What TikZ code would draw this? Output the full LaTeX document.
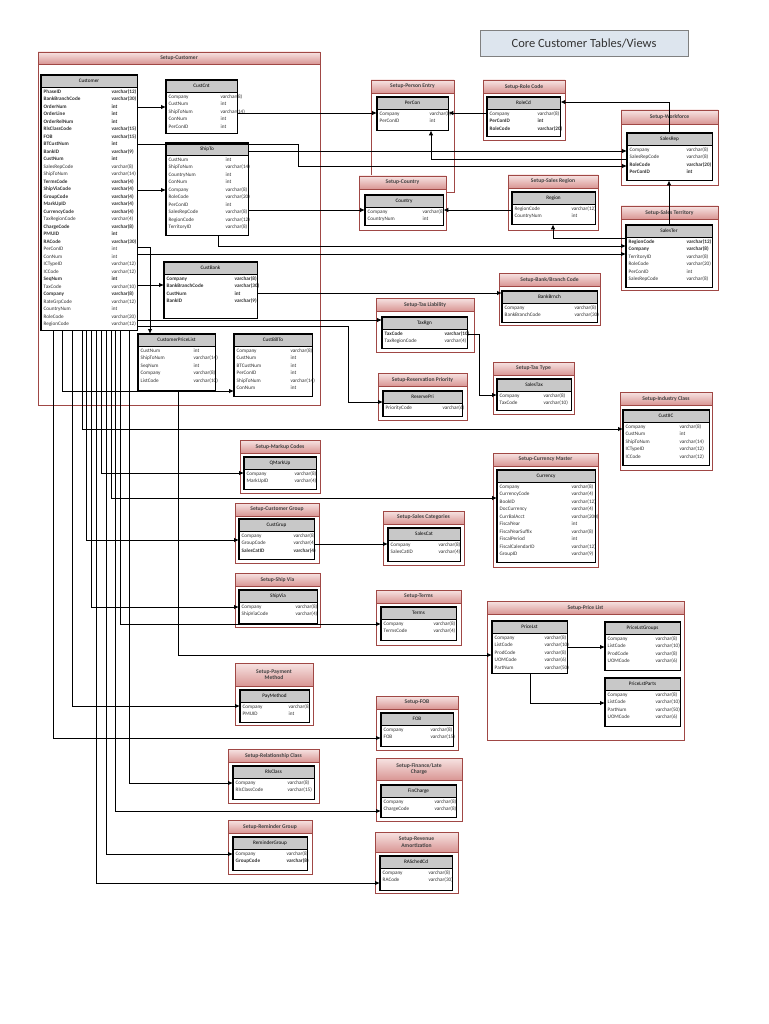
\documentclass[tikz,border=0pt]{standalone}
\usepackage{fontspec}
\setmainfont{Carlito}
\usetikzlibrary{arrows.meta}
\definecolor{grpTop}{HTML}{F7E4E3}
\definecolor{grpBot}{HTML}{D99694}
\definecolor{grpLine}{HTML}{A04845}
\definecolor{hdrgray}{HTML}{C8C8C8}
\definecolor{titlefill}{HTML}{DDE5EE}
\definecolor{rowtext}{HTML}{303030}
\newcommand\Bf[2]{\textbf{#1}&\textbf{#2}\\}
\newcommand\Rw[2]{#1&#2\\}
\newcommand\tbl[8]{%
 \node[minimum width={(#4-#2)*1pt}, minimum height={(#5-#3)*1pt}, inner sep=0pt, anchor=north west, fill=white] (#1) at (#2,#3) {};
 \draw[fill=hdrgray, line width=0.6pt] (#2,#3) rectangle (#4,#3+12);
 \node[font=\fontsize{5.2}{6}\selectfont, inner sep=0pt] (#1-t) at ({(#2+#4)/2},#3+6) {#6};
 \node[anchor=north west, inner sep=0pt, text=rowtext, font=\fontsize{5.2}{7.5}\selectfont] (#1-r) at (#2+2.5,#3+13) {\begin{tabular}{@{}p{#7pt}l@{}}#8\end{tabular}};
 \draw[line width=1.1pt] (#1.north west) rectangle (#1.south east);
}
\newcommand\grp[7]{%
 \fill[white] (#2,#3) rectangle (#4,#5);
 \shade[top color=grpTop, bottom color=grpBot] (#2,#3) rectangle (#4,#6);
 \draw[grpLine, line width=0.6pt] (#2,#3) rectangle (#4,#5);
 \draw[grpLine, line width=0.4pt] (#2,#6) -- (#4,#6);
 \node[font=\fontsize{5.6}{6.6}\selectfont\bfseries, text=black!75, align=center, inner sep=0pt] (#1) at ({(#2+#4)/2},{(#3+#6)/2}) {#7};
}
\begin{document}
\begin{tikzpicture}[x=1pt,y=-1pt, arr/.style={line width=0.9pt, -{Latex[length=5pt,width=4.5pt]}}, ln/.style={line width=0.9pt}]
\useasboundingbox (0,0) rectangle (768,1024);
\fill[white] (0,0) rectangle (768,1024);
% title
\node[draw=black!50, fill=titlefill, minimum width=208pt, minimum height=26pt, font=\fontsize{12.5}{14}\selectfont, text=black!80] (title) at (584,43) {Core Customer Tables/Views};
% groups
\grp{gCust}{38}{52}{320}{405}{64}{Setup-Customer}
\grp{gPer}{371}{80}{454}{192}{93}{Setup-Person Entry}
\grp{gRole}{483}{80}{565}{140}{93}{Setup-Role Code}
\grp{gWork}{621}{110}{718}{185}{124}{Setup-Workforce}
\grp{gCtry}{359}{176}{446}{230}{189}{Setup-Country}
\grp{gReg}{508}{175}{598}{230}{188}{Setup-Sales Region}
\grp{gTer}{621}{206}{718}{290}{219}{Setup-Sales Territory}
\grp{gBank}{499}{273}{600}{325}{286}{Setup-Bank/Branch Code}
\grp{gTax}{376}{298}{474}{352}{311}{Setup-Tax Liability}
\grp{gRes}{378}{373}{467}{420}{386}{Setup-Reservation Priority}
\grp{gTT}{493}{362}{574}{414}{375}{Setup-Tax Type}
\grp{gInd}{620}{392}{712}{470}{405}{Setup-Industry Class}
\grp{gMark}{240}{440}{320}{493}{453}{Setup-Markup Codes}
\grp{gCur}{493}{453}{598}{567}{466}{Setup-Currency Master}
\grp{gCG}{235}{503}{319}{563}{516}{Setup-Customer Group}
\grp{gSC}{383}{511}{464}{565}{524}{Setup-Sales Categories}
\grp{gSV}{235}{573}{320}{627}{586}{Setup-Ship Via}
\grp{gTerms}{376}{590}{461}{645}{603}{Setup-Terms}
\grp{gPL}{487}{601}{684}{740}{614}{Setup-Price List}
\grp{gPay}{235}{663}{313}{725}{686}{Setup-Payment\\Method}
\grp{gFOB}{376}{696}{458}{750}{709}{Setup-FOB}
\grp{gRls}{228}{749}{319}{803}{762}{Setup-Relationship Class}
\grp{gFin}{376}{758}{462}{821}{780}{Setup-Finance/Late\\Charge}
\grp{gRem}{228}{820}{312}{874}{833}{Setup-Reminder Group}
\grp{gRev}{375}{832}{458}{893}{852}{Setup-Revenue\\Amortization}
% tables
\tbl{Customer}{41}{75}{137}{330}{Customer}{56}{\Bf{PhaseID}{varchar(12)}\Bf{BankBranchCode}{varchar(30)}\Bf{OrderNum}{int}\Bf{OrderLine}{int}\Bf{OrderRelNum}{int}\Bf{RlsClassCode}{varchar(15)}\Bf{FOB}{varchar(15)}\Bf{BTCustNum}{int}\Bf{BankID}{varchar(9)}\Bf{CustNum}{int}\Rw{SalesRepCode}{varchar(8)}\Rw{ShipToNum}{varchar(14)}\Bf{TermsCode}{varchar(4)}\Bf{ShipViaCode}{varchar(4)}\Bf{GroupCode}{varchar(4)}\Bf{MarkUpID}{varchar(4)}\Bf{CurrencyCode}{varchar(4)}\Rw{TaxRegionCode}{varchar(4)}\Bf{ChargeCode}{varchar(8)}\Bf{PMUID}{int}\Bf{RACode}{varchar(30)}\Rw{PerConID}{int}\Rw{ConNum}{int}\Rw{ICTypeID}{varchar(12)}\Rw{ICCode}{varchar(12)}\Bf{SeqNum}{int}\Rw{TaxCode}{varchar(10)}\Bf{Company}{varchar(8)}\Rw{RateGrpCode}{varchar(12)}\Rw{CountryNum}{int}\Rw{RoleCode}{varchar(20)}\Rw{RegionCode}{varchar(12)}}
\tbl{CustCnt}{166}{80}{237}{133}{CustCnt}{40}{\Rw{Company}{varchar(8)}\Rw{CustNum}{int}\Rw{ShipToNum}{varchar(14)}\Rw{ConNum}{int}\Rw{PerConID}{int}}
\tbl{ShipTo}{166}{143}{248}{235}{ShipTo}{45}{\Rw{CustNum}{int}\Rw{ShipToNum}{varchar(14)}\Rw{CountryNum}{int}\Rw{ConNum}{int}\Rw{Company}{varchar(8)}\Rw{RoleCode}{varchar(20)}\Rw{PerConID}{int}\Rw{SalesRepCode}{varchar(8)}\Rw{RegionCode}{varchar(12)}\Rw{TerritoryID}{varchar(8)}}
\tbl{CustBank}{164}{262}{257}{318}{CustBank}{56}{\Bf{Company}{varchar(8)}\Bf{BankBranchCode}{varchar(30)}\Bf{CustNum}{int}\Bf{BankID}{varchar(9)}}
\tbl{CustomerPriceList}{138}{334}{215}{390}{CustomerPriceList}{41}{\Rw{CustNum}{int}\Rw{ShipToNum}{varchar(14)}\Rw{SeqNum}{int}\Rw{Company}{varchar(8)}\Rw{ListCode}{varchar(10)}}
\tbl{CustBillTo}{234}{334}{312}{396}{CustBillTo}{42}{\Rw{Company}{varchar(8)}\Rw{CustNum}{int}\Rw{BTCustNum}{int}\Rw{PerConID}{int}\Rw{ShipToNum}{varchar(14)}\Rw{ConNum}{int}}
\tbl{PerCon}{377}{97}{448}{130}{PerCon}{38}{\Rw{Company}{varchar(8)}\Rw{PerConID}{int}}
\tbl{RoleCd}{487}{97}{560}{136}{RoleCd}{36}{\Rw{Company}{varchar(8)}\Bf{PerConID}{int}\Bf{RoleCode}{varchar(20)}}
\tbl{SalesRep}{627}{133}{712}{180}{SalesRep}{45}{\Rw{Company}{varchar(8)}\Rw{SalesRepCode}{varchar(8)}\Bf{RoleCode}{varchar(20)}\Bf{PerConID}{int}}
\tbl{Country}{365}{195}{443}{225}{Country}{43}{\Rw{Company}{varchar(8)}\Rw{CountryNum}{int}}
\tbl{Region}{512}{192}{595}{224}{Region}{45}{\Rw{RegionCode}{varchar(12)}\Rw{CountryNum}{int}}
\tbl{SalesTer}{626}{225}{712}{287}{SalesTer}{46}{\Bf{RegionCode}{varchar(12)}\Bf{Company}{varchar(8)}\Rw{TerritoryID}{varchar(8)}\Rw{RoleCode}{varchar(20)}\Rw{PerConID}{int}\Rw{SalesRepCode}{varchar(8)}}
\tbl{BankBrnch}{502}{291}{597}{322}{BankBrnch}{58}{\Rw{Company}{varchar(8)}\Rw{BankBranchCode}{varchar(30)}}
\tbl{TaxRgn}{382}{317}{467}{348}{TaxRgn}{48}{\Bf{TaxCode}{varchar(10)}\Rw{TaxRegionCode}{varchar(4)}}
\tbl{ReservePri}{383}{391}{462}{416}{ReservePri}{45}{\Rw{PriorityCode}{varchar(6)}}
\tbl{SalesTax}{497}{379}{571}{410}{SalesTax}{32}{\Rw{Company}{varchar(8)}\Rw{TaxCode}{varchar(10)}}
\tbl{CustIIC}{623}{410}{709}{465}{CustIIC}{42}{\Rw{Company}{varchar(8)}\Rw{CustNum}{int}\Rw{ShipToNum}{varchar(14)}\Rw{ICTypeID}{varchar(12)}\Rw{ICCode}{varchar(12)}}
\tbl{QMarkUp}{244}{457}{316}{489}{QMarkUp}{36}{\Rw{Company}{varchar(8)}\Rw{MarkUpID}{varchar(4)}}
\tbl{Currency}{497}{470}{595}{562}{Currency}{60}{\Rw{Company}{varchar(8)}\Rw{CurrencyCode}{varchar(4)}\Rw{BookID}{varchar(12)}\Rw{DocCurrency}{varchar(4)}\Rw{CurrBalAcct}{varchar(200)}\Rw{FiscalYear}{int}\Rw{FiscalYearSuffix}{varchar(8)}\Rw{FiscalPeriod}{int}\Rw{FiscalCalendarID}{varchar(12)}\Rw{GroupID}{varchar(9)}}
\tbl{CustGrup}{239}{519}{314}{559}{CustGrup}{40}{\Rw{Company}{varchar(8)}\Rw{GroupCode}{varchar(4)}\Bf{SalesCatID}{varchar(4)}}
\tbl{SalesCat}{388}{528}{460}{561}{SalesCat}{36}{\Rw{Company}{varchar(8)}\Rw{SalesCatID}{varchar(4)}}
\tbl{ShipVia}{239}{590}{317}{623}{ShipVia}{42}{\Rw{Company}{varchar(8)}\Rw{ShipViaCode}{varchar(4)}}
\tbl{Terms}{381}{607}{456}{640}{Terms}{38}{\Rw{Company}{varchar(8)}\Rw{TermsCode}{varchar(4)}}
\tbl{PriceLst}{492}{621}{567}{673}{PriceLst}{38}{\Rw{Company}{varchar(8)}\Rw{ListCode}{varchar(10)}\Rw{ProdCode}{varchar(8)}\Rw{UOMCode}{varchar(6)}\Rw{PartNum}{varchar(50)}}
\tbl{PriceLstGroups}{605}{622}{680}{670}{PriceLstGroups}{36}{\Rw{Company}{varchar(8)}\Rw{ListCode}{varchar(10)}\Rw{ProdCode}{varchar(8)}\Rw{UOMCode}{varchar(6)}}
\tbl{PriceLstParts}{605}{678}{680}{726}{PriceLstParts}{36}{\Rw{Company}{varchar(8)}\Rw{ListCode}{varchar(10)}\Rw{PartNum}{varchar(50)}\Rw{UOMCode}{varchar(6)}}
\tbl{PayMethod}{240}{690}{309}{722}{PayMethod}{34}{\Rw{Company}{varchar(8)}\Rw{PMUID}{int}}
\tbl{FOB}{381}{713}{453}{746}{FOB}{35}{\Rw{Company}{varchar(8)}\Rw{FOB}{varchar(15)}}
\tbl{RlsClass}{233}{766}{314}{799}{RlsClass}{40}{\Rw{Company}{varchar(8)}\Rw{RlsClassCode}{varchar(15)}}
\tbl{FinCharge}{381}{785}{456}{817}{FinCharge}{39}{\Rw{Company}{varchar(8)}\Rw{ChargeCode}{varchar(8)}}
\tbl{ReminderGroup}{233}{837}{307}{870}{ReminderGroup}{39}{\Rw{Company}{varchar(8)}\Bf{GroupCode}{varchar(8)}}
\tbl{RASchedCd}{380}{856}{452}{890}{RASchedCd}{34}{\Rw{Company}{varchar(8)}\Rw{RACode}{varchar(30)}}
% connectors
\draw[arr] (Customer.east|-0,107) -- (CustCnt.west|-0,107);
\draw[arr] (Customer.east|-0,190) -- (ShipTo.west|-0,190);
\draw[arr] (Customer.east|-0,285) -- (CustBank.west|-0,285);
\draw[arr] (Customer.east|-0,247) -- (150,247) -- (CustomerPriceList.north-|150,0);
\draw[arr] (Customer.south-|62,0) |- (CustBillTo.west|-0,391);
\draw[arr] (CustCnt.east|-0,113) -- (PerCon.west|-0,113);
\draw[arr] (ShipTo.east|-0,151) -- (SalesRep.west|-0,151);
\draw[arr] (SalesRep.west|-0,159) -| (PerCon.south-|431,0);
\draw[arr] (Customer.east|-0,144) -| (298,166) -- (SalesRep.west|-0,166);
\draw[arr] (ShipTo.east|-0,210) -- (Country.west|-0,210);
\draw[arr] (Region.west|-0,210) -- (Country.east|-0,210);
\draw[arr] (ShipTo.south-|218,0) |- (SalesTer.west|-0,246);
\draw[arr] (Customer.east|-0,254) -- (SalesTer.west|-0,254);
\draw[arr] (SalesTer.west|-0,238) -| (Region.south-|553,0);
\draw[arr] (SalesTer.north-|669,0) -- (SalesRep.south-|669,0);
\draw[arr] (SalesRep.north-|669,0) |- (RoleCd.east|-0,102);
\draw[arr] (RoleCd.west|-0,113) -- (PerCon.east|-0,113);
\draw[arr] (CustBank.east|-0,293) -- (BankBrnch.west|-0,293);
\draw[arr] (Customer.east|-0,320) -- (TaxRgn.west|-0,320);
\draw[arr] (Customer.east|-0,326) -| (348,402) -- (ReservePri.west|-0,402);
\draw[arr] (TaxRgn.east|-0,334) -| (479,395) -- (SalesTax.west|-0,395);
\draw[arr] (Customer.south-|82,0) |- (CustIIC.west|-0,429);
\draw[arr] (Customer.south-|101,0) |- (QMarkUp.west|-0,473);
\draw[arr] (Customer.south-|111,0) |- (Currency.west|-0,498);
\draw[arr] (Customer.south-|86,0) |- (CustGrup.west|-0,540);
\draw[arr] (Customer.south-|91,0) |- (ShipVia.west|-0,607);
\draw[arr] (Customer.south-|120,0) |- (Terms.west|-0,624);
\draw[arr] (Customer.south-|72,0) |- (PayMethod.west|-0,706);
\draw[arr] (Customer.south-|53,0) |- (FOB.west|-0,738);
\draw[arr] (Customer.south-|129,0) |- (RlsClass.west|-0,783);
\draw[arr] (Customer.south-|115,0) |- (FinCharge.west|-0,811);
\draw[arr] (Customer.south-|106,0) |- (ReminderGroup.west|-0,854);
\draw[arr] (Customer.south-|96,0) |- (RASchedCd.west|-0,883);
\draw[arr] (CustomerPriceList.south-|178,0) |- (PriceLst.west|-0,655);
\draw[arr] (CustGrup.east|-0,544) -- (SalesCat.west|-0,544);
\draw[arr] (PriceLst.east|-0,647) -- (PriceLstGroups.west|-0,647);
\draw[arr] (PriceLst.south-|530,0) |- (PriceLstParts.west|-0,703);
\end{tikzpicture}
\end{document}
